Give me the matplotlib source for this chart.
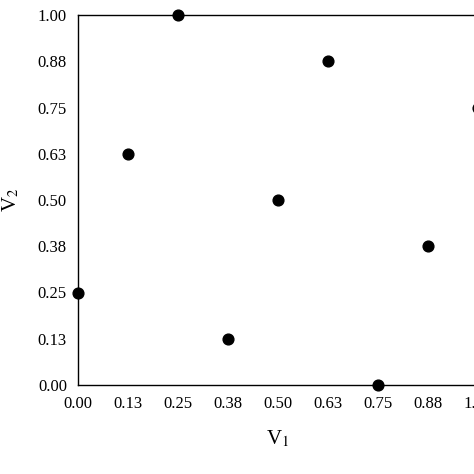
import matplotlib
matplotlib.use("Agg")
import matplotlib.pyplot as plt

v1 = [0.0, 0.125, 0.25, 0.375, 0.5, 0.625, 0.75, 0.875, 1.0]
v2 = [0.25, 0.625, 1.0, 0.125, 0.5, 0.875, 0.0, 0.375, 0.75]
ticks = [0.0, 0.125, 0.25, 0.375, 0.5, 0.625, 0.75, 0.875, 1.0]
tick_labels = ["0.00", "0.13", "0.25", "0.38", "0.50", "0.63", "0.75", "0.88", "1.00"]

plt.rcParams['font.family'] = ['Liberation Serif', 'DejaVu Serif']
plt.rcParams['mathtext.fontset'] = 'stix'

fig = plt.figure(figsize=(4.74, 4.74), dpi=100)
ax = fig.add_axes([78/474, 89/474, 400/474, 370/474])
ax.scatter(v1, v2, s=60, color='black', zorder=3, clip_on=False)
ax.set_xlim(0, 1)
ax.set_ylim(0, 1)
ax.set_xticks(ticks)
ax.set_xticklabels(tick_labels)
ax.set_yticks(ticks)
ax.set_yticklabels(tick_labels)
ax.tick_params(labelsize=12, length=0, pad=8)
ax.set_xlabel("V$_1$", fontsize=15, labelpad=12)
ax.set_ylabel("V$_2$", fontsize=15, labelpad=12)
for s in ax.spines.values():
    s.set_color('black')
    s.set_linewidth(1)

fig.savefig("out.png", dpi=100)
